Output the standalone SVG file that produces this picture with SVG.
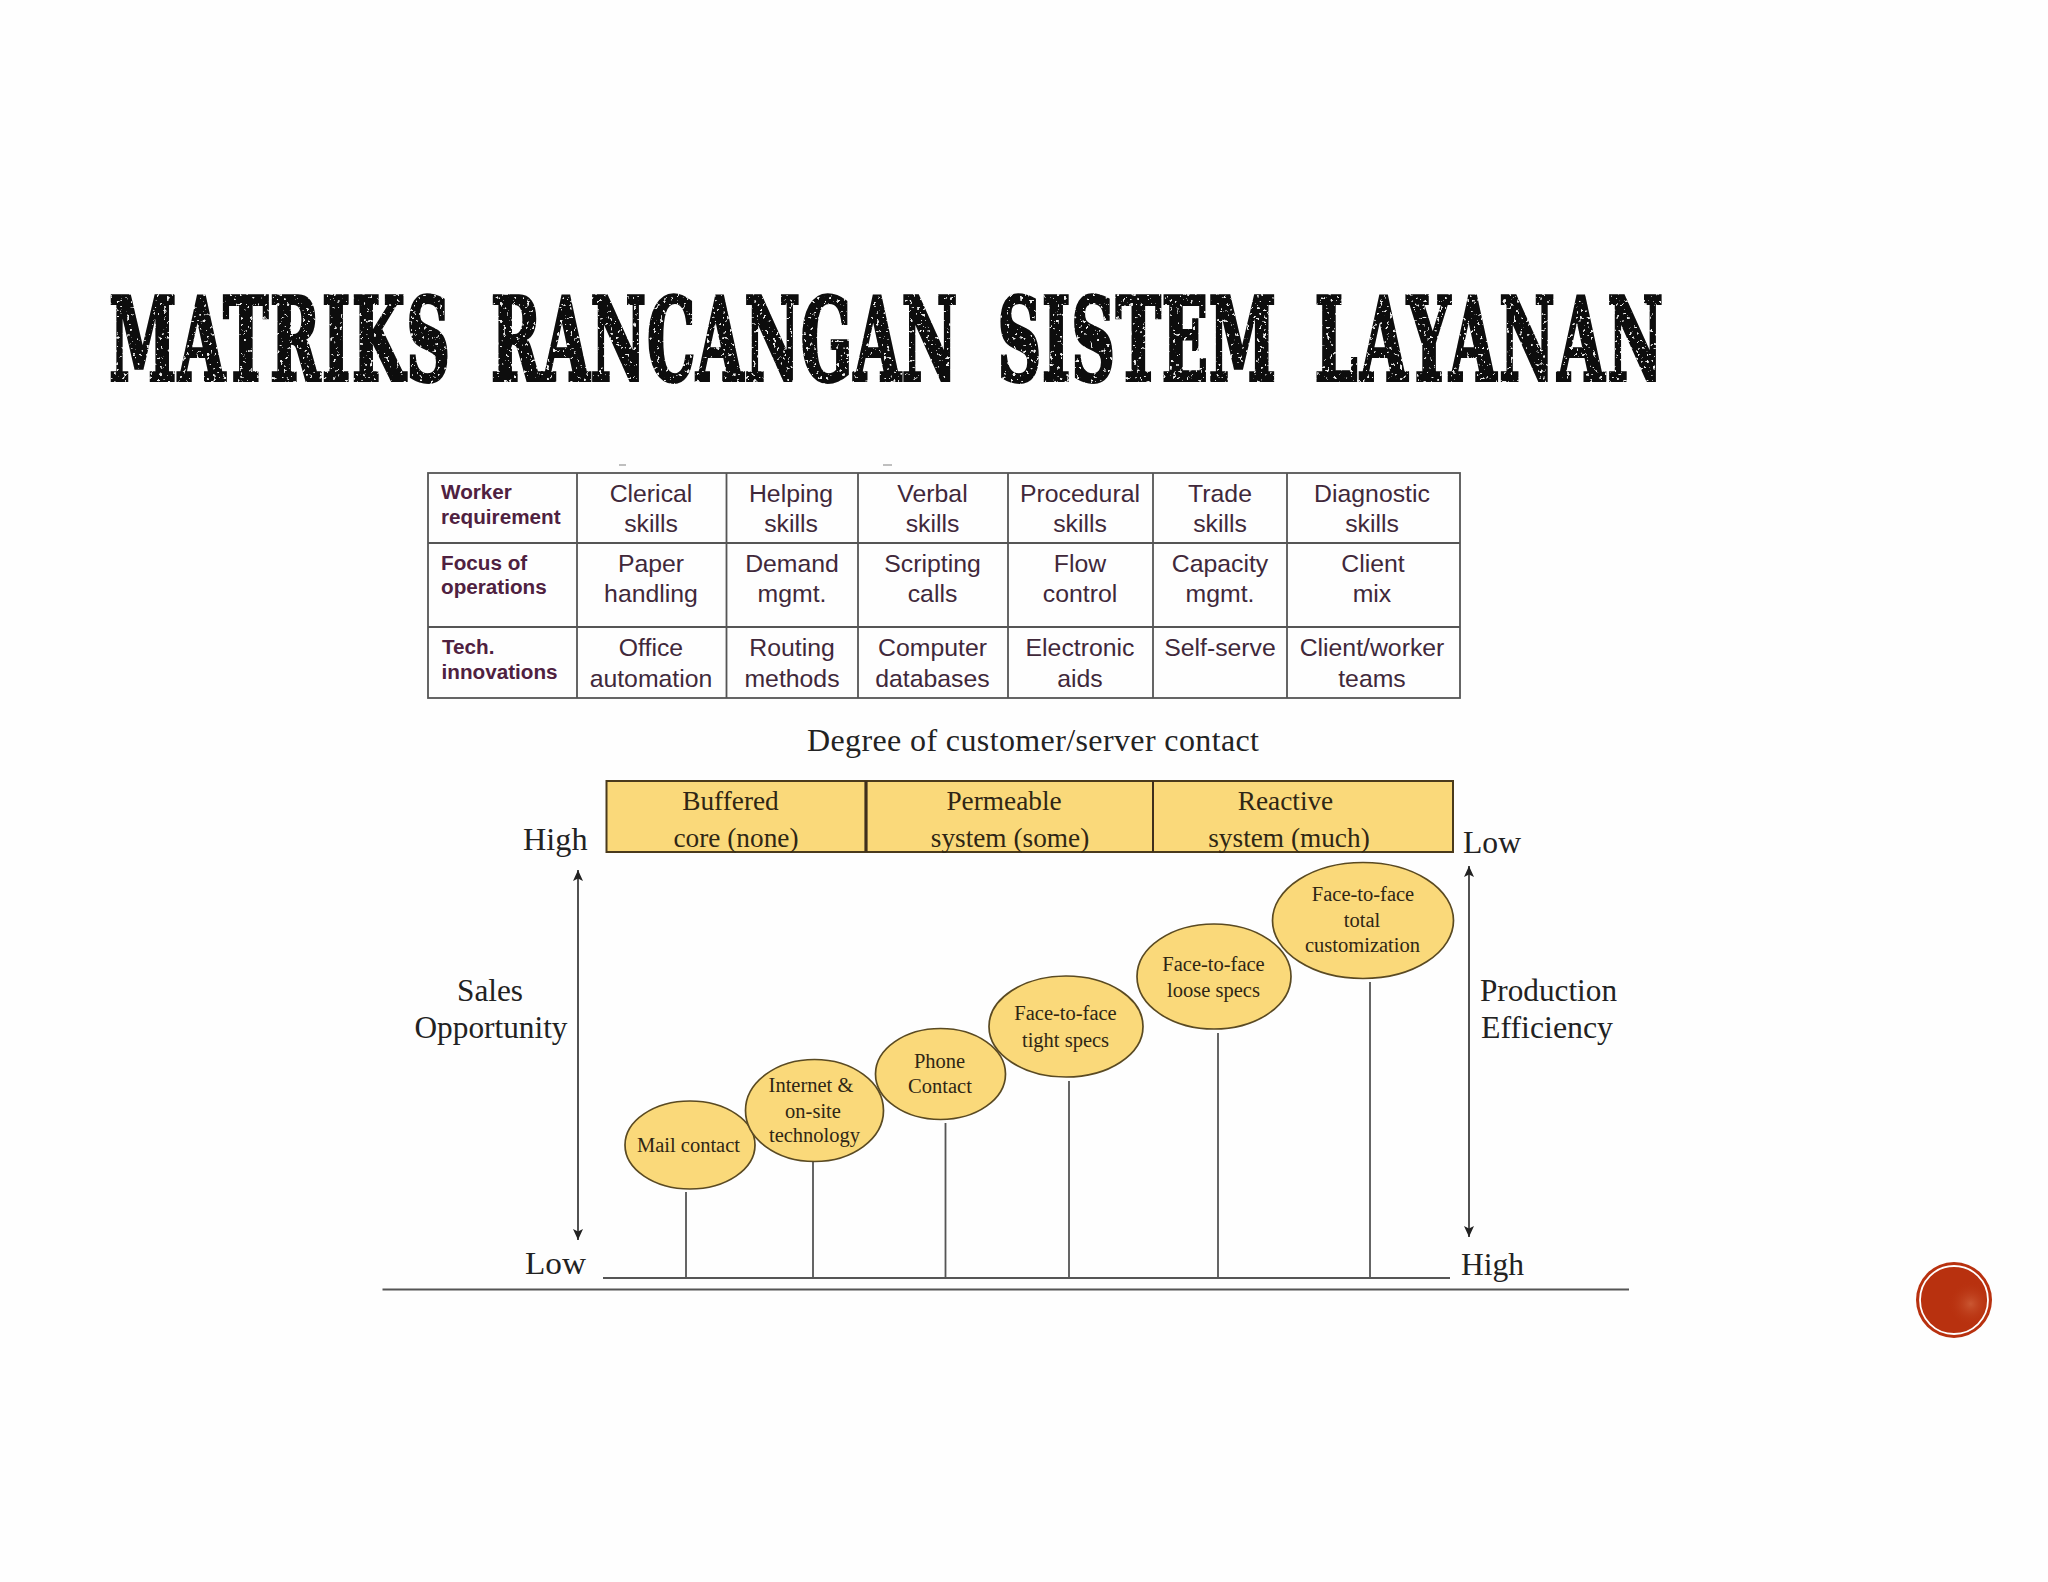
<svg xmlns="http://www.w3.org/2000/svg" width="2048" height="1582" viewBox="0 0 2048 1582">
<style>
.t{font-family:"Liberation Sans",Arial,sans-serif;font-size:24.8px;fill:#40283a;text-anchor:middle}
.h{font-family:"Liberation Sans",Arial,sans-serif;font-size:20.7px;font-weight:bold;fill:#4f2140}
.s{font-family:"Liberation Serif","Times New Roman",serif;font-size:31px;fill:#222}
.b{font-family:"Liberation Serif","Times New Roman",serif;font-size:27.3px;fill:#2f2614;text-anchor:middle}
.e{font-family:"Liberation Serif","Times New Roman",serif;font-size:20.5px;fill:#2f2614;text-anchor:middle}
.g{stroke:#555;stroke-width:1.8;fill:none}
.c{stroke:#333;stroke-width:1.7;fill:none}
.y{fill:#fad97a;stroke:#5a4a22;stroke-width:1.7}
.bar{fill:#fad97a;stroke:#4a3a1c;stroke-width:2}
</style>
<defs>
<marker id="ah" viewBox="0 0 12 12" refX="11" refY="6" markerWidth="12" markerHeight="12" markerUnits="userSpaceOnUse" orient="auto-start-reverse"><path d="M0 1 L11 6 L0 11 L2.5 6 Z" fill="#222"/></marker>
<filter id="grain" x="-2%" y="-10%" width="104%" height="120%"><feTurbulence type="fractalNoise" baseFrequency="0.3" numOctaves="2" seed="4" result="n"/><feColorMatrix in="n" type="matrix" values="0 0 0 0 0.85 0 0 0 0 0.85 0 0 0 0 0.85 0 0 0 -12 4.2" result="w"/><feComposite in="w" in2="SourceAlpha" operator="in" result="sp"/><feMerge><feMergeNode in="SourceGraphic"/><feMergeNode in="sp"/></feMerge></filter>
<radialGradient id="sp" cx="0.72" cy="0.55" r="0.3"><stop offset="0" stop-color="#d9764f" stop-opacity="0.55"/><stop offset="1" stop-color="#b8310f" stop-opacity="0"/></radialGradient>
</defs>
<rect width="2048" height="1582" fill="#fefefe"/>
<g id="title" filter="url(#grain)"><text transform="scale(0.528 1)" y="380" style="font-family:'DejaVu Serif',serif;font-weight:bold;font-size:115px;fill:#080808;stroke:#080808;stroke-width:4px"><tspan x="207" letter-spacing="2.9">MATRIKS</tspan> <tspan x="930" letter-spacing="1.85">RANCANGAN</tspan> <tspan x="1889" letter-spacing="1.5">SISTEM</tspan> <tspan x="2490" letter-spacing="5.3">LAYANAN</tspan></text></g>
<g id="table">
<rect x="428" y="473" width="1032" height="225" class="g"/>
<path class="g" d="M428 543H1460M428 627H1460M577 473V698M726.5 473V698M858 473V698M1008 473V698M1153 473V698M1287 473V698"/>
<path d="M619 465h7M883 465h9" stroke="#aaa" stroke-width="1.5"/>
<g id="row-worker"><text class="h" x="441" y="499">Worker</text><text class="h" x="441" y="524">requirement</text>
<text class="t" x="651" y="501.5">Clerical</text><text class="t" x="651" y="531.5">skills</text>
<text class="t" x="791" y="501.5">Helping</text><text class="t" x="791" y="531.5">skills</text>
<text class="t" x="932.5" y="501.5">Verbal</text><text class="t" x="932.5" y="531.5">skills</text>
<text class="t" x="1080" y="501.5">Procedural</text><text class="t" x="1080" y="531.5">skills</text>
<text class="t" x="1220" y="501.5">Trade</text><text class="t" x="1220" y="531.5">skills</text>
<text class="t" x="1372" y="501.5">Diagnostic</text><text class="t" x="1372" y="531.5">skills</text></g>
<g id="row-focus"><text class="h" x="441" y="569.5">Focus of</text><text class="h" x="441" y="593.5">operations</text>
<text class="t" x="651" y="572">Paper</text><text class="t" x="651" y="602">handling</text>
<text class="t" x="792" y="572">Demand</text><text class="t" x="792" y="602">mgmt.</text>
<text class="t" x="932.5" y="572">Scripting</text><text class="t" x="932.5" y="602">calls</text>
<text class="t" x="1080" y="572">Flow</text><text class="t" x="1080" y="602">control</text>
<text class="t" x="1220" y="572">Capacity</text><text class="t" x="1220" y="602">mgmt.</text>
<text class="t" x="1373" y="572">Client</text><text class="t" x="1372" y="602">mix</text></g>
<g id="row-tech"><text class="h" x="442" y="654">Tech.</text><text class="h" x="441.5" y="678.5">innovations</text>
<text class="t" x="651" y="656">Office</text><text class="t" x="651" y="686.5">automation</text>
<text class="t" x="792" y="656">Routing</text><text class="t" x="792" y="686.5">methods</text>
<text class="t" x="932.5" y="656">Computer</text><text class="t" x="932.5" y="686.5">databases</text>
<text class="t" x="1080" y="656">Electronic</text><text class="t" x="1080" y="686.5">aids</text>
<text class="t" x="1220" y="656">Self-serve</text>
<text class="t" x="1372" y="656">Client/worker</text><text class="t" x="1372" y="686.5">teams</text></g>
</g>
<g id="degree-label"><text class="s" x="807" y="751" textLength="452" lengthAdjust="spacing" style="font-size:32px">Degree of customer/server contact</text></g>
<g id="bar">
<rect x="606.5" y="781" width="846.5" height="71" class="bar"/>
<path d="M866 781V852" stroke="#3f2f1c" stroke-width="3.2"/><path d="M1153 781V852" stroke="#3f2f1c" stroke-width="2"/>
<text class="b" x="730.5" y="810">Buffered</text><text class="b" x="736" y="847">core (none)</text>
<text class="b" x="1004" y="810">Permeable</text><text class="b" x="1010" y="847">system (some)</text>
<text class="b" x="1285.5" y="810">Reactive</text><text class="b" x="1289" y="847">system (much)</text>
</g>
<g id="axis-labels">
<text class="s" x="523" y="850" textLength="64.5" lengthAdjust="spacingAndGlyphs">High</text>
<text class="s" x="525" y="1274" textLength="61" lengthAdjust="spacingAndGlyphs">Low</text>
<text class="s" x="1463" y="852.5" textLength="58" lengthAdjust="spacingAndGlyphs">Low</text>
<text class="s" x="1461" y="1275" textLength="63" lengthAdjust="spacingAndGlyphs">High</text>
<text class="s" x="457" y="1001" textLength="66" lengthAdjust="spacingAndGlyphs">Sales</text>
<text class="s" x="414.5" y="1038" textLength="153" lengthAdjust="spacingAndGlyphs">Opportunity</text>
<text class="s" x="1480" y="1001" textLength="137" lengthAdjust="spacingAndGlyphs">Production</text>
<text class="s" x="1481" y="1038" textLength="132" lengthAdjust="spacingAndGlyphs">Efficiency</text>
</g>
<g id="connectors">
<line class="c" x1="578" y1="1240" x2="578" y2="870" marker-start="url(#ah)" marker-end="url(#ah)"/>
<line class="c" x1="1469" y1="1237" x2="1469" y2="866" marker-start="url(#ah)" marker-end="url(#ah)"/>
<path class="g" d="M686 1192V1278M813 1161V1278M945.5 1123V1278M1069 1081V1278M1218 1033V1278M1370 982V1278"/>
<path class="g" d="M603 1278H1450"/>
<path class="g" d="M382.5 1289.5H1629"/>
</g>
<g id="node-mail"><ellipse class="y" cx="690" cy="1145" rx="65" ry="44"/><text class="e" x="688.5" y="1151.5">Mail contact</text></g>
<g id="node-internet"><ellipse class="y" cx="814.5" cy="1110.5" rx="69" ry="51"/><text class="e" x="811" y="1092">Internet &amp;</text><text class="e" x="813" y="1118">on-site</text><text class="e" x="814.5" y="1142">technology</text></g>
<g id="node-phone"><ellipse class="y" cx="940.5" cy="1074" rx="65" ry="45.5"/><text class="e" x="939.5" y="1067.5">Phone</text><text class="e" x="940" y="1093">Contact</text></g>
<g id="node-tight"><ellipse class="y" cx="1066" cy="1026.5" rx="77" ry="50.5"/><text class="e" x="1065.5" y="1020">Face-to-face</text><text class="e" x="1065.5" y="1046.5">tight specs</text></g>
<g id="node-loose"><ellipse class="y" cx="1214" cy="976.5" rx="77" ry="52.5"/><text class="e" x="1213.5" y="971">Face-to-face</text><text class="e" x="1213.5" y="997">loose specs</text></g>
<g id="node-total"><ellipse class="y" cx="1363" cy="920.5" rx="90.5" ry="58"/><text class="e" x="1363" y="901">Face-to-face</text><text class="e" x="1362" y="927">total</text><text class="e" x="1362.5" y="951.5">customization</text></g>
<g id="badge"><circle cx="1954" cy="1300" r="38" fill="#b8310f"/><circle cx="1954" cy="1300" r="38" fill="url(#sp)"/><circle cx="1954" cy="1300" r="34" fill="none" stroke="#fff" stroke-width="1.8"/></g>
</svg>
